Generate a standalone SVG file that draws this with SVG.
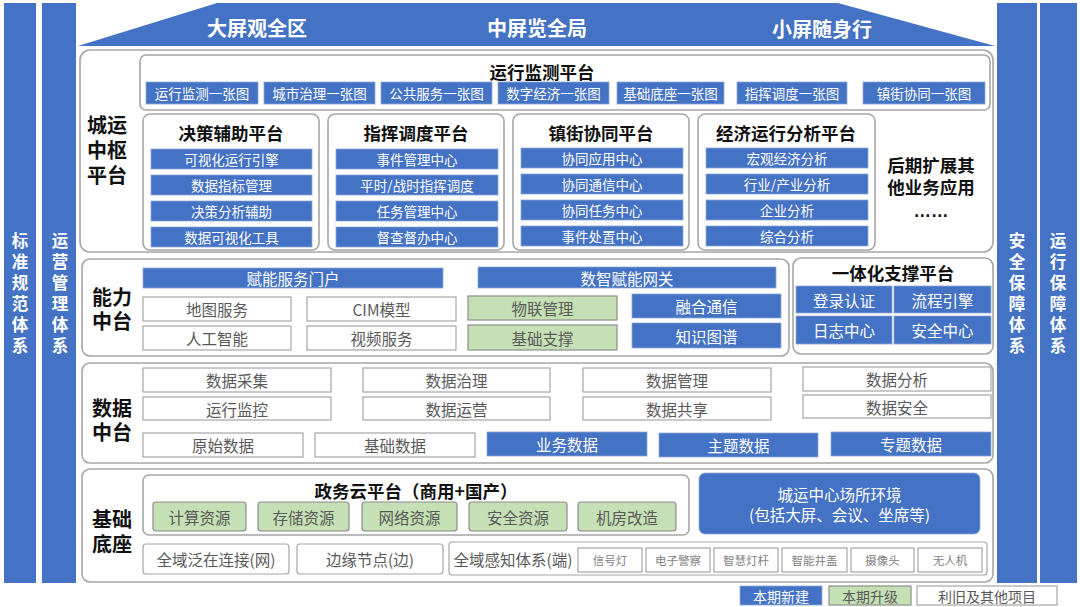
<svg xmlns="http://www.w3.org/2000/svg" width="1080" height="607" viewBox="0 0 1080 607">
<style>
text{font-family:"Noto Sans CJK SC","Noto Sans",sans-serif;text-anchor:middle;dominant-baseline:central;}
.blue{fill:#4472C4;}
.bbox{fill:#4472C4;stroke:#8fa9d8;stroke-width:0.8;}
.wbox{fill:#fff;stroke:#a6a6a6;stroke-width:1.2;}
.gbox{fill:#C5E0B4;stroke:#8c8c8c;stroke-width:1.2;}
.cont{fill:#fff;stroke:#a6a6a6;stroke-width:1.6;}
.bt{fill:#fff;font-size:13.5px;}
.wt{fill:#fff;font-size:15.5px;}
.gt{fill:#595959;font-size:15.5px;}
.st{fill:#7f7f7f;font-size:11.5px;}
.ttl{fill:#111;font-size:17.5px;font-weight:700;}
.lbl{fill:#111;font-size:20px;font-weight:700;font-family:"Liberation Sans","Noto Sans CJK SC",sans-serif;}
.fut{fill:#111;font-size:17.5px;font-weight:700;font-family:"Liberation Sans","Noto Sans CJK SC",sans-serif;}
.side{fill:#fff;font-size:16.5px;font-weight:700;writing-mode:vertical-rl;letter-spacing:4.5px;}
.ban{fill:#fff;font-size:20px;font-weight:700;}
</style>
<rect width="1080" height="607" fill="#fff"/>

<g id="side-bars">
<rect class="blue" x="4" y="3" width="32" height="580"/>
<rect class="blue" x="42" y="3" width="34" height="580"/>
<rect class="blue" x="997" y="3" width="40" height="580"/>
<rect class="blue" x="1040" y="3" width="37" height="580"/>
<text class="side" x="20" y="295">标准规范体系</text>
<text class="side" x="60" y="295">运营管理体系</text>
<text class="side" x="1017" y="295">安全保障体系</text>
<text class="side" x="1058" y="295">运行保障体系</text>
</g>

<g id="banner">
<polygon class="blue" points="78,46 217,3 838,3 995,46"/>
<text class="ban" x="257" y="27">大屏观全区</text>
<text class="ban" x="537" y="27">中屏览全局</text>
<text class="ban" x="822" y="28">小屏随身行</text>
</g>

<g id="city-hub">
<rect class="cont" x="80" y="50" width="913" height="202" rx="10"/>
<text class="lbl"><tspan x="107" y="126">城运</tspan><tspan x="107" y="151">中枢</tspan><tspan x="107" y="176">平台</tspan></text>
</g>

<g id="monitor-platform">
<rect class="cont" x="140" y="55" width="850" height="55" rx="6"/>
<text class="ttl" x="542" y="71">运行监测平台</text>
<rect class="bbox" x="146" y="82" width="112" height="22"/><text class="bt" x="202" y="93">运行监测一张图</text>
<rect class="bbox" x="264" y="82" width="111" height="22"/><text class="bt" x="319.5" y="93">城市治理一张图</text>
<rect class="bbox" x="381" y="82" width="111" height="22"/><text class="bt" x="436.5" y="93">公共服务一张图</text>
<rect class="bbox" x="498" y="82" width="111" height="22"/><text class="bt" x="553.5" y="93">数字经济一张图</text>
<rect class="bbox" x="617" y="82" width="107" height="22"/><text class="bt" x="670.5" y="93">基础底座一张图</text>
<rect class="bbox" x="737" y="82" width="110" height="22"/><text class="bt" x="792" y="93">指挥调度一张图</text>
<rect class="bbox" x="863" y="82" width="122" height="22"/><text class="bt" x="924" y="93">镇街协同一张图</text>
</g>

<g id="decision-platform">
<rect class="cont" x="143" y="114" width="176" height="136" rx="7"/>
<text class="ttl" x="231" y="132">决策辅助平台</text>
<rect class="bbox" x="151" y="149" width="161" height="20"/><text class="bt" x="231.5" y="159">可视化运行引擎</text>
<rect class="bbox" x="151" y="175" width="161" height="20"/><text class="bt" x="231.5" y="185">数据指标管理</text>
<rect class="bbox" x="151" y="201" width="161" height="20"/><text class="bt" x="231.5" y="211">决策分析辅助</text>
<rect class="bbox" x="151" y="227" width="161" height="20"/><text class="bt" x="231.5" y="237">数据可视化工具</text>
</g>

<g id="command-platform">
<rect class="cont" x="328" y="114" width="176" height="136" rx="7"/>
<text class="ttl" x="416" y="132">指挥调度平台</text>
<rect class="bbox" x="336" y="149" width="162" height="20"/><text class="bt" x="417" y="159">事件管理中心</text>
<rect class="bbox" x="336" y="175" width="162" height="20"/><text class="bt" x="417" y="185">平时/战时指挥调度</text>
<rect class="bbox" x="336" y="201" width="162" height="20"/><text class="bt" x="417" y="211">任务管理中心</text>
<rect class="bbox" x="336" y="227" width="162" height="20"/><text class="bt" x="417" y="237">督查督办中心</text>
</g>

<g id="street-platform">
<rect class="cont" x="513" y="114" width="176" height="136" rx="7"/>
<text class="ttl" x="601" y="132">镇街协同平台</text>
<rect class="bbox" x="521" y="148" width="162" height="20"/><text class="bt" x="602" y="158">协同应用中心</text>
<rect class="bbox" x="521" y="174" width="162" height="20"/><text class="bt" x="602" y="184">协同通信中心</text>
<rect class="bbox" x="521" y="200" width="162" height="20"/><text class="bt" x="602" y="210">协同任务中心</text>
<rect class="bbox" x="521" y="226" width="162" height="20"/><text class="bt" x="602" y="236">事件处置中心</text>
</g>

<g id="economy-platform">
<rect class="cont" x="698" y="114" width="177" height="136" rx="7"/>
<text class="ttl" x="786" y="132">经济运行分析平台</text>
<rect class="bbox" x="706" y="148" width="162" height="20"/><text class="bt" x="787" y="158">宏观经济分析</text>
<rect class="bbox" x="706" y="174" width="162" height="20"/><text class="bt" x="787" y="184">行业/产业分析</text>
<rect class="bbox" x="706" y="200" width="162" height="20"/><text class="bt" x="787" y="210">企业分析</text>
<rect class="bbox" x="706" y="226" width="162" height="20"/><text class="bt" x="787" y="236">综合分析</text>
</g>

<g id="future-apps">
<text class="fut"><tspan x="931" y="166">后期扩展其</tspan><tspan x="931" y="188">他业务应用</tspan><tspan x="931" y="211">……</tspan></text>
</g>

<g id="capability-platform">
<rect class="cont" x="82" y="259" width="707" height="97" rx="8"/>
<text class="lbl"><tspan x="112" y="298">能力</tspan><tspan x="112" y="322">中台</tspan></text>
<rect class="bbox" x="143" y="268" width="300" height="20"/><text class="wt" x="293" y="278">赋能服务门户</text>
<rect class="bbox" x="478" y="267" width="298" height="21"/><text class="wt" x="627" y="277.5">数智赋能网关</text>
<rect class="wbox" x="143" y="297" width="148" height="24"/><text class="gt" x="217" y="309">地图服务</text>
<rect class="wbox" x="143" y="326" width="148" height="24"/><text class="gt" x="217" y="338">人工智能</text>
<rect class="wbox" x="307" y="297" width="149" height="24"/><text class="gt" x="381.5" y="309">CIM模型</text>
<rect class="wbox" x="307" y="326" width="149" height="24"/><text class="gt" x="381.5" y="338">视频服务</text>
<rect class="gbox" x="468" y="296" width="149" height="24"/><text class="gt" x="542.5" y="308">物联管理</text>
<rect class="gbox" x="468" y="325" width="149" height="25"/><text class="gt" x="542.5" y="337.5">基础支撑</text>
<rect class="bbox" x="632" y="294" width="149" height="24"/><text class="wt" x="706.5" y="306">融合通信</text>
<rect class="bbox" x="632" y="323" width="149" height="25"/><text class="wt" x="706.5" y="335.5">知识图谱</text>
</g>

<g id="support-platform">
<rect class="cont" x="793" y="258" width="200" height="96" rx="8"/>
<text class="ttl" x="893" y="272">一体化支撑平台</text>
<rect class="bbox" x="796" y="286" width="96" height="27"/><text class="wt" x="844" y="299.5">登录认证</text>
<rect class="bbox" x="894" y="286" width="97" height="27"/><text class="wt" x="942.5" y="299.5">流程引擎</text>
<rect class="bbox" x="796" y="316" width="96" height="28"/><text class="wt" x="844" y="330">日志中心</text>
<rect class="bbox" x="894" y="316" width="97" height="28"/><text class="wt" x="942.5" y="330">安全中心</text>
</g>

<g id="data-platform">
<rect class="cont" x="82" y="363" width="911" height="100" rx="8"/>
<text class="lbl"><tspan x="112" y="409">数据</tspan><tspan x="112" y="433">中台</tspan></text>
<rect class="wbox" x="143" y="368" width="188" height="24"/><text class="gt" x="237" y="380">数据采集</text>
<rect class="wbox" x="363" y="368" width="187" height="24"/><text class="gt" x="456.5" y="380">数据治理</text>
<rect class="wbox" x="583" y="368" width="188" height="24"/><text class="gt" x="677" y="380">数据管理</text>
<rect class="wbox" x="803" y="367" width="188" height="24"/><text class="gt" x="897" y="379">数据分析</text>
<rect class="wbox" x="143" y="397" width="188" height="23"/><text class="gt" x="237" y="408.5">运行监控</text>
<rect class="wbox" x="363" y="397" width="187" height="23"/><text class="gt" x="456.5" y="408.5">数据运营</text>
<rect class="wbox" x="583" y="397" width="188" height="23"/><text class="gt" x="677" y="408.5">数据共享</text>
<rect class="wbox" x="803" y="395" width="188" height="23"/><text class="gt" x="897" y="406.5">数据安全</text>
<rect class="wbox" x="143" y="433" width="160" height="24"/><text class="gt" x="223" y="445">原始数据</text>
<rect class="wbox" x="315" y="433" width="160" height="24"/><text class="gt" x="395" y="445">基础数据</text>
<rect class="bbox" x="487" y="432" width="160" height="24"/><text class="wt" x="567" y="444">业务数据</text>
<rect class="bbox" x="659" y="433" width="159" height="24"/><text class="wt" x="738.5" y="445">主题数据</text>
<rect class="bbox" x="831" y="432" width="160" height="24"/><text class="wt" x="911" y="444">专题数据</text>
</g>

<g id="base-platform">
<rect class="cont" x="82" y="469" width="911" height="113" rx="8"/>
<text class="lbl"><tspan x="112" y="520">基础</tspan><tspan x="112" y="545">底座</tspan></text>
</g>

<g id="gov-cloud">
<rect class="cont" x="143" y="475" width="546" height="60" rx="6"/>
<text class="ttl" x="416" y="490">政务云平台（商用+国产）</text>
<rect class="gbox" x="153" y="502" width="93" height="29" rx="3"/><text class="gt" x="199.5" y="516.5">计算资源</text>
<rect class="gbox" x="258" y="502" width="91" height="29" rx="3"/><text class="gt" x="303.5" y="516.5">存储资源</text>
<rect class="gbox" x="362" y="502" width="95" height="29" rx="3"/><text class="gt" x="409.5" y="516.5">网络资源</text>
<rect class="gbox" x="469" y="502" width="98" height="29" rx="3"/><text class="gt" x="518" y="516.5">安全资源</text>
<rect class="gbox" x="578" y="502" width="98" height="29" rx="3"/><text class="gt" x="627" y="516.5">机房改造</text>
</g>

<g id="venue">
<rect class="bbox" x="699" y="473" width="281" height="61" rx="6"/>
<text class="wt"><tspan x="839.5" y="494">城运中心场所环境</tspan><tspan x="839.5" y="514">(包括大屏、会议、坐席等)</tspan></text>
</g>

<g id="network">
<rect class="wbox" x="143" y="544" width="146" height="30" rx="3"/><text class="gt" x="216" y="559">全域泛在连接(网)</text>
<rect class="wbox" x="297" y="544" width="146" height="30" rx="3"/><text class="gt" x="370" y="559">边缘节点(边)</text>
</g>

<g id="perception">
<rect class="wbox" x="449" y="542" width="538" height="33" rx="3"/>
<text class="gt" x="513" y="559">全域感知体系(端)</text>
<rect class="wbox" x="578" y="548" width="64" height="24"/><text class="st" x="610" y="560">信号灯</text>
<rect class="wbox" x="646" y="548" width="64" height="24"/><text class="st" x="678" y="560">电子警察</text>
<rect class="wbox" x="714" y="548" width="64" height="24"/><text class="st" x="746" y="560">智慧灯杆</text>
<rect class="wbox" x="782" y="548" width="65" height="24"/><text class="st" x="814.5" y="560">智能井盖</text>
<rect class="wbox" x="851" y="548" width="63" height="24"/><text class="st" x="882.5" y="560">摄像头</text>
<rect class="wbox" x="918" y="548" width="64" height="24"/><text class="st" x="950" y="560">无人机</text>
</g>

<g id="legend">
<rect class="bbox" x="740" y="586" width="82" height="19"/><text class="wt" style="font-size:14px" x="781" y="595.5">本期新建</text>
<rect class="gbox" x="829" y="586" width="82" height="19"/><text class="gt" style="font-size:14px" x="870" y="595.5">本期升级</text>
<rect class="wbox" x="917" y="586" width="140" height="19"/><text class="gt" style="font-size:14px" x="987" y="595.5">利旧及其他项目</text>
</g>
</svg>
